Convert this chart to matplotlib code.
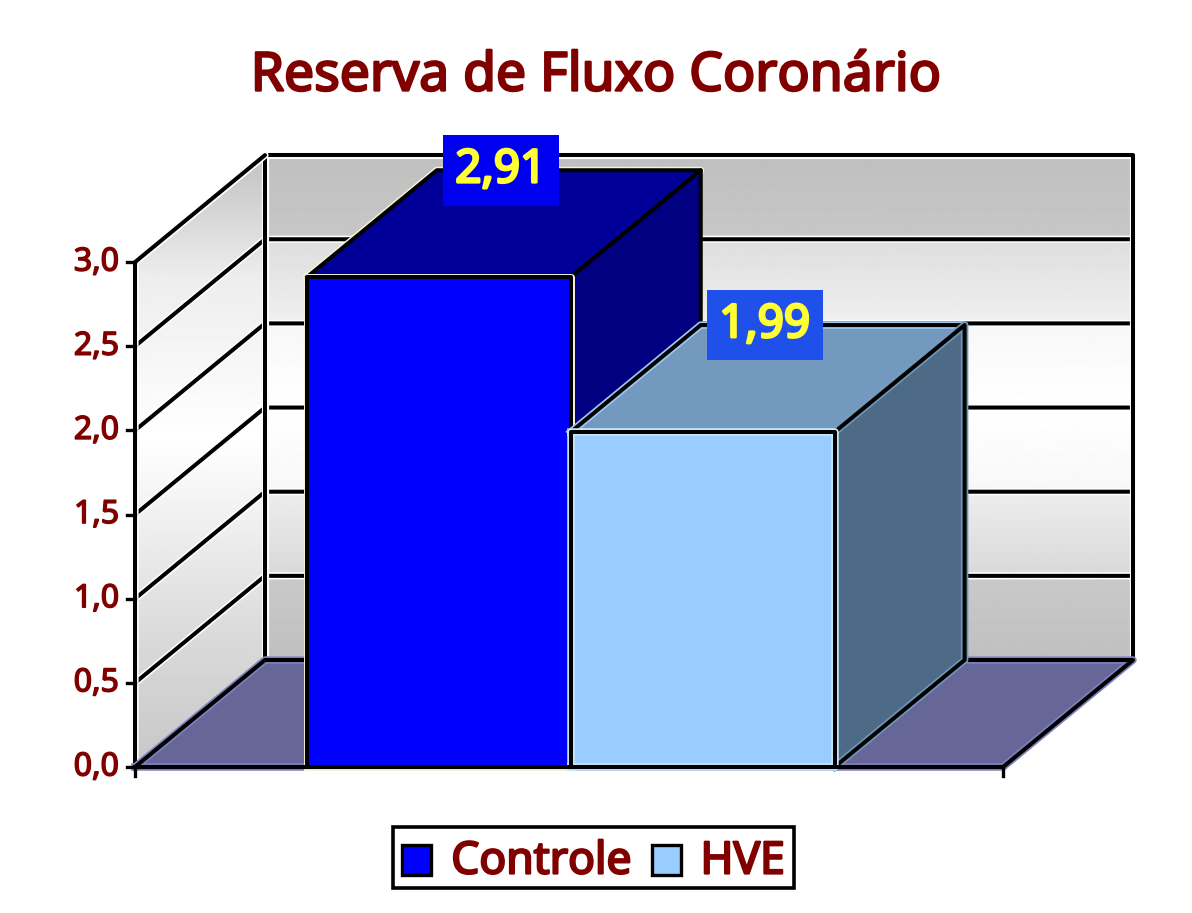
import matplotlib
matplotlib.use('Agg')
import matplotlib.pyplot as plt
import matplotlib.patheffects as pe
from matplotlib.patches import Patch, Polygon
import numpy as np

categories = ['Controle', 'HVE']
values = [2.91, 1.99]
value_labels = ['2,91', '1,99']
y_ticks = [0.0, 0.5, 1.0, 1.5, 2.0, 2.5, 3.0]
y_tick_labels = ['0,0', '0,5', '1,0', '1,5', '2,0', '2,5', '3,0']
title = 'Reserva de Fluxo Coronário'

W, H = 1192, 913
PX_X = 868.0     # pixels per x unit (floor front edge is 1 unit)
PX_Y = 168.3     # pixels per value unit
X0, Y0 = 135, 767
DX = 130 / PX_X  # 3d depth in data units
DY = 107 / PX_Y
BAR_LEFT = 0.198
BAR_W = 0.304
Y_MAX = 3.0

DARK_RED = '#800000'
FRONT = ['#0000ff', '#99ccff']
TOP = ['#000099', '#7399bf']
SIDE = ['#000080', '#4d6a87']
INNER_FRONT = [None, '#c4e8ff']
INNER_TOP = [None, '#9cc8ee']
INNER_SIDE = [None, '#6f96b8']
LABEL_BG = ['#0000f0', '#1f50ea']

# wall shading, grey level against height, stepped at the gridlines on the back wall
BACK_POS = [0.0, 0.5, 0.5, 1.0, 1.0, 1.5, 2.0, 2.0, 2.5, 2.5, 3.0]
BACK_GREY = [0.75, 0.79, 0.85, 0.93, 0.97, 1.0, 0.97, 0.94, 0.87, 0.78, 0.75]
SIDE_POS = [0.0, 0.6, 1.6, 2.4, 3.0]
SIDE_GREY = [0.78, 0.85, 1.0, 0.93, 0.76]

z = [3]


def next_z():
    z[0] += 1
    return z[0]


def outline(ax, pts, halo='white', halo_lw=5.2):
    xs, ys = zip(*pts)
    ax.plot(xs, ys, color='black', lw=2.9, solid_joinstyle='round', solid_capstyle='round', zorder=next_z(),
            path_effects=[pe.Stroke(linewidth=halo_lw, foreground=halo), pe.Stroke(linewidth=2.9, foreground='black')])


def face(ax, pts, color, inner=None, outer=None):
    closed = list(pts) + [pts[0]]
    xs, ys = zip(*closed)
    if outer:
        ax.plot(xs, ys, color=outer, lw=5.0, solid_joinstyle='round', zorder=next_z())
    ax.add_patch(Polygon(pts, closed=True, facecolor=color, edgecolor='none', zorder=next_z()))
    if inner:
        ax.plot(xs, ys, color=inner, lw=5.4, solid_joinstyle='round', zorder=next_z())
    ax.plot(xs, ys, color='black', lw=2.9, solid_joinstyle='round', zorder=next_z())


def shaded(ax, pts, span, pos, grey):
    # vertical grey gradient clipped to a wall polygon
    yy = np.linspace(0, 3, 400)
    g = np.interp(yy, pos, grey)
    im = ax.imshow(g[::-1].reshape(-1, 1), cmap='gray', vmin=0, vmax=1, aspect='auto',
                   extent=(min(p[0] for p in pts), max(p[0] for p in pts), span[0], span[1]),
                   zorder=1)
    im.set_clip_path(Polygon(pts, closed=True, transform=ax.transData))


def plot(ax):
    # back wall and side wall
    back = [(DX, DY), (1 + DX, DY), (1 + DX, Y_MAX + DY), (DX, Y_MAX + DY)]
    side = [(0, 0), (DX, DY), (DX, Y_MAX + DY), (0, Y_MAX)]
    shaded(ax, back, (DY, Y_MAX + DY), BACK_POS, BACK_GREY)
    shaded(ax, side, (0, Y_MAX + DY), SIDE_POS, SIDE_GREY)

    for t in y_ticks:
        outline(ax, [(1 + DX, t + DY), (DX, t + DY), (0, t)])
    outline(ax, [(DX, DY), (DX, Y_MAX + DY), (1 + DX, Y_MAX + DY), (1 + DX, DY)])
    outline(ax, [(0, 0), (0, Y_MAX), (DX, Y_MAX + DY)])

    # floor
    face(ax, [(0, 0), (1, 0), (1 + DX, DY), (DX, DY)], '#666699', inner='#8080bb')

    # bars, back faces first so the neighbour edges stay on top
    for i, v in enumerate(values):
        x = BAR_LEFT + i * BAR_W
        outer = '#f4f4dc' if i == 0 else None
        face(ax, [(x, v), (x + BAR_W, v), (x + BAR_W + DX, v + DY), (x + DX, v + DY)], TOP[i], INNER_TOP[i], outer)
        face(ax, [(x + BAR_W, 0), (x + BAR_W + DX, DY), (x + BAR_W + DX, v + DY), (x + BAR_W, v)], SIDE[i], INNER_SIDE[i])
        face(ax, [(x, 0), (x + BAR_W, 0), (x + BAR_W, v), (x, v)], FRONT[i], INNER_FRONT[i], outer)

    bold = [pe.withStroke(linewidth=1.1, foreground=DARK_RED)]

    # front axis lines and tick marks
    ax.plot([0, 1], [0, 0], color='black', lw=2.9, solid_capstyle='round', zorder=next_z())
    for t, lab in zip(y_ticks, y_tick_labels):
        ax.plot([-8 / PX_X, 0], [t, t], color='black', lw=2.4, zorder=next_z())
        ax.text(-16 / PX_X, t, lab, ha='right', va='center', fontsize=23, color=DARK_RED, path_effects=bold)
    for xt in [0, 1]:
        ax.plot([xt, xt], [0, -9 / PX_Y], color='black', lw=2.4, zorder=next_z())

    # value labels sit on the back edge of each bar top
    for i, (v, lab) in enumerate(zip(values, value_labels)):
        x = BAR_LEFT + i * BAR_W + BAR_W / 2 + DX / 2 - 3 / PX_X
        ax.text(x, v + DY, lab, ha='center', va='center', fontsize=33, color='#ffff33', zorder=next_z(),
                path_effects=[pe.withStroke(linewidth=2.0, foreground='#ffff33')],
                bbox=dict(boxstyle='square,pad=0.27', facecolor=LABEL_BG[i], edgecolor='none'))


def main():
    plt.rcParams['font.family'] = ['Noto Sans', 'DejaVu Sans']

    fig = plt.figure(figsize=(W / 100, H / 100), dpi=100)
    ax = fig.add_axes([0, 0, 1, 1])
    plot(ax)
    ax.set_xlim(-X0 / PX_X, (W - X0) / PX_X)
    ax.set_ylim(-(H - Y0) / PX_Y, Y0 / PX_Y)
    ax.axis('off')

    bold = [pe.withStroke(linewidth=1.7, foreground=DARK_RED)]
    fig.text(596 / W, 1 - 77 / H, title, ha='center', va='center', fontsize=38.5, color=DARK_RED, path_effects=bold)

    handles = [Patch(facecolor=FRONT[0], edgecolor='black', linewidth=2.4),
               Patch(facecolor=FRONT[1], edgecolor='black', linewidth=2.4)]
    leg = fig.legend(handles, categories, loc='center', bbox_to_anchor=(593.5 / W, 1 - 857.5 / H), ncols=2,
                     fontsize=32, frameon=True, fancybox=False, framealpha=1, edgecolor='black',
                     handlelength=0.65, handleheight=0.65, handletextpad=0.45, columnspacing=0.45,
                     borderpad=0.2, borderaxespad=0)
    leg.get_frame().set_linewidth(2.6)
    for txt in leg.get_texts():
        txt.set_color(DARK_RED)
        txt.set_path_effects([pe.withStroke(linewidth=1.6, foreground=DARK_RED)])
        txt.set_position((0, -5))
    for h in leg.legend_handles:
        h.set_y(h.get_y() - 5)

    fig.savefig('out.png', dpi=100)


if __name__ == '__main__':
    main()
